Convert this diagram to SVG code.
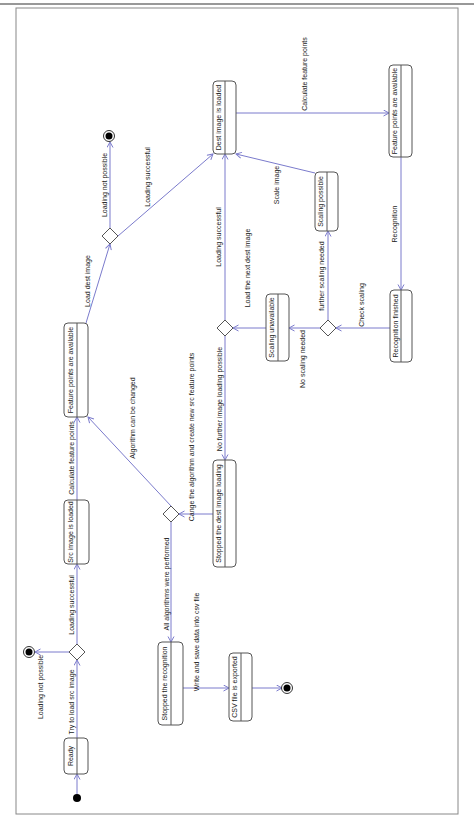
<svg xmlns="http://www.w3.org/2000/svg" width="474" height="822" viewBox="0 0 474 822">
<style>
text{font-family:"Liberation Sans",Arial,sans-serif;font-size:7px;fill:#1a1a1a;text-anchor:middle}
.box{fill:#fff;stroke:#555;stroke-width:1}
.div{stroke:#555;stroke-width:1}
.dia{fill:#fff;stroke:#555;stroke-width:1}
.c{stroke:#7b7bcc;stroke-width:1;fill:none;marker-end:url(#arr)}
</style>
<defs>
<marker id="arr" markerWidth="8" markerHeight="8" refX="6" refY="3.5" orient="auto" markerUnits="userSpaceOnUse">
<path d="M0.5,0.5 L6,3.5 L0.5,6.5" fill="none" stroke="#7b7bcc" stroke-width="1"/>
</marker>
</defs>
<rect width="474" height="822" fill="#fff"/>
<line x1="0" y1="4" x2="474" y2="4" stroke="#333" stroke-width="1.2"/>
<rect x="16" y="8" width="442" height="806" fill="none" stroke="#888" stroke-width="1"/>

<g id="connectors">
<line class="c" x1="77" y1="794" x2="77" y2="774"/>
<line class="c" x1="77" y1="738" x2="77" y2="660"/>
<text transform="translate(72,702) rotate(-90)" dy=".35em">Try to load src image</text>
<line class="c" x1="69" y1="652" x2="35" y2="652"/>
<text transform="translate(41,687) rotate(-90)" dy=".35em">Loading not possible</text>
<line class="c" x1="77" y1="644" x2="77" y2="564"/>
<text transform="translate(72,605) rotate(-90)" dy=".35em">Loading successful</text>
<line class="c" x1="77" y1="500" x2="77" y2="417"/>
<text transform="translate(72,458) rotate(-90)" dy=".35em">Calculate feature points</text>
<line class="c" x1="86" y1="323" x2="110" y2="244"/>
<text transform="translate(88,281) rotate(-90)" dy=".35em">Load dest image</text>
<line class="c" x1="110" y1="228" x2="110" y2="142"/>
<text transform="translate(105,185) rotate(-90)" dy=".35em">Loading not possible</text>
<line class="c" x1="118" y1="236" x2="213" y2="154"/>
<text transform="translate(148,177) rotate(-90)" dy=".35em">Loading successful</text>
<line class="c" x1="236" y1="113" x2="389" y2="113"/>
<text transform="translate(305,74) rotate(-90)" dy=".35em">Calculate feature points</text>
<line class="c" x1="401" y1="157" x2="401" y2="290"/>
<text transform="translate(395,224) rotate(-90)" dy=".35em">Recognition</text>
<line class="c" x1="390" y1="328" x2="336" y2="328"/>
<text transform="translate(362,305) rotate(-90)" dy=".35em">Check scaling</text>
<line class="c" x1="328" y1="320" x2="328" y2="231"/>
<text transform="translate(322,276) rotate(-90)" dy=".35em">further scaling needed</text>
<line class="c" x1="315" y1="173" x2="236" y2="154"/>
<text transform="translate(277,185) rotate(-90)" dy=".35em">Scale image</text>
<line class="c" x1="320" y1="328" x2="289" y2="328"/>
<text transform="translate(303,359) rotate(-90)" dy=".35em">No scaling needed</text>
<line class="c" x1="266" y1="328" x2="233" y2="328"/>
<text transform="translate(248,268) rotate(-90)" dy=".35em">Load the next dest image</text>
<line class="c" x1="225" y1="320" x2="225" y2="154"/>
<text transform="translate(219,237) rotate(-90)" dy=".35em">Loading successful</text>
<line class="c" x1="225" y1="336" x2="225" y2="460"/>
<text transform="translate(220,399) rotate(-90)" dy=".35em">No further image loading possible</text>
<line class="c" x1="213" y1="514" x2="179" y2="514"/>
<text transform="translate(192,437) rotate(-90)" dy=".35em">Cange the algorithm and create new src feature points</text>
<line class="c" x1="171" y1="506" x2="88" y2="417"/>
<text transform="translate(133,418) rotate(-90)" dy=".35em">Algorithm can be changed</text>
<line class="c" x1="171" y1="522" x2="171" y2="642"/>
<text transform="translate(167,584) rotate(-90)" dy=".35em">All algorithms were performed</text>
<line class="c" x1="183" y1="688" x2="229" y2="688"/>
<text transform="translate(197,642) rotate(-90)" dy=".35em">Write and save data into csv file</text>
<line class="c" x1="252" y1="688" x2="282" y2="688"/>
</g>

<g id="start"><circle cx="77" cy="798" r="4" fill="#000"/></g>
<g id="final1"><circle cx="29" cy="652" r="5.5" fill="#fff" stroke="#333"/><circle cx="29" cy="652" r="3.5" fill="#000"/></g>
<g id="final2"><circle cx="109" cy="136" r="5.5" fill="#fff" stroke="#333"/><circle cx="109" cy="136" r="3.5" fill="#000"/></g>
<g id="final3"><circle cx="287" cy="688" r="5.5" fill="#fff" stroke="#333"/><circle cx="287" cy="688" r="3.5" fill="#000"/></g>

<g id="d1"><polygon class="dia" points="77,644 85,652 77,660 69,652"/></g>
<g id="d2"><polygon class="dia" points="171,506 179,514 171,522 163,514"/></g>
<g id="d3"><polygon class="dia" points="110,228 118,236 110,244 102,236"/></g>
<g id="d4"><polygon class="dia" points="328,320 336,328 328,336 320,328"/></g>
<g id="d5"><polygon class="dia" points="225,320 233,328 225,336 217,328"/></g>

<g id="ready"><rect class="box" x="64" y="738" width="24" height="36" rx="4"/><line class="div" x1="77" y1="738" x2="77" y2="774"/><text transform="translate(70.5,756) rotate(-90)" dy=".35em">Ready</text></g>
<g id="src"><rect class="box" x="64" y="500" width="25" height="64" rx="4"/><line class="div" x1="77" y1="500" x2="77" y2="564"/><text transform="translate(70.5,532) rotate(-90)" dy=".35em">Src image is loaded</text></g>
<g id="featL"><rect class="box" x="64" y="323" width="24" height="94" rx="4"/><line class="div" x1="77" y1="323" x2="77" y2="417"/><text transform="translate(70.5,370) rotate(-90)" dy=".35em">Feature points are available</text></g>
<g id="dest"><rect class="box" x="213" y="81" width="23" height="73" rx="4"/><line class="div" x1="225" y1="81" x2="225" y2="154"/><text transform="translate(219,117.5) rotate(-90)" dy=".35em">Dest image is loaded</text></g>
<g id="featR"><rect class="box" x="389" y="65" width="23" height="92" rx="4"/><line class="div" x1="401" y1="65" x2="401" y2="157"/><text transform="translate(395,111) rotate(-90)" dy=".35em">Feature points are available</text></g>
<g id="recog"><rect class="box" x="390" y="290" width="22" height="72" rx="4"/><line class="div" x1="401" y1="290" x2="401" y2="362"/><text transform="translate(395.5,326) rotate(-90)" dy=".35em">Recognition finished</text></g>
<g id="scalePos"><rect class="box" x="315" y="172" width="23" height="59" rx="4"/><line class="div" x1="327" y1="172" x2="327" y2="231"/><text transform="translate(321,201.5) rotate(-90)" dy=".35em">Scaling possible</text></g>
<g id="scaleUn"><rect class="box" x="266" y="294" width="23" height="67" rx="4"/><line class="div" x1="278" y1="294" x2="278" y2="361"/><text transform="translate(272,327.5) rotate(-90)" dy=".35em">Scaling unavailable</text></g>
<g id="stopDest"><rect class="box" x="213" y="460" width="23" height="107" rx="4"/><line class="div" x1="225" y1="460" x2="225" y2="567"/><text transform="translate(219,513.5) rotate(-90)" dy=".35em">Stopped the dest image loading</text></g>
<g id="stopRec"><rect class="box" x="158" y="642" width="25" height="83" rx="4"/><line class="div" x1="171" y1="642" x2="171" y2="725"/><text transform="translate(164.5,683.5) rotate(-90)" dy=".35em">Stopped the recognition</text></g>
<g id="csv"><rect class="box" x="229" y="653" width="23" height="68" rx="4"/><line class="div" x1="241" y1="653" x2="241" y2="721"/><text transform="translate(235,687) rotate(-90)" dy=".35em">CSV file is exported</text></g>
</svg>
